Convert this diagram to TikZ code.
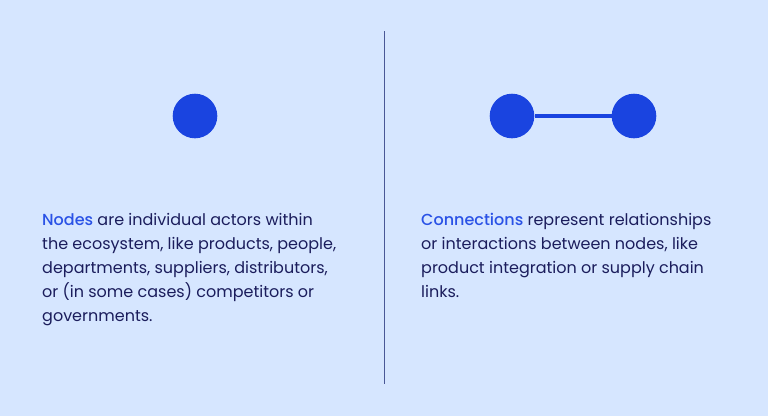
\documentclass[tikz,border=0pt]{standalone}
\usepackage{fontspec}
\setmainfont{Poppins}
\newfontfamily\headfont{Poppins Medium}
\definecolor{bgblue}{HTML}{D6E6FF}
\definecolor{dotblue}{HTML}{1A44E0}
\definecolor{inkblue}{HTML}{1B1D5C}
\definecolor{headblue}{HTML}{2A52E6}
\definecolor{rulegray}{HTML}{4A5896}

\begin{document}
\begin{tikzpicture}[x=1pt, y=-1pt,
		dot/.style={circle, fill=dotblue, minimum size=44.6pt, inner sep=0pt},
		blurb/.style={anchor=north west, inner sep=0pt, align=left, text=inkblue, font=\fontsize{16}{24}\selectfont}]
			% Background
			\fill[bgblue] (0, 0) rectangle (768, 416);
			\useasboundingbox (0, 0) rectangle (768, 416);
	
			% Nodes
			\node[dot] (n) at (195, 116) {};
			\node[dot] (a) at (512, 116) {};
			\node[dot] (b) at (634, 116) {};
	
			% Divider
			\coordinate (top) at (384, 31);
			\coordinate (bottom) at (384, 384);
			\draw[rulegray, line width=1pt] (top) -- (bottom);
	
			% Link
			\draw[dotblue, line width=4pt] (a) -- (b);
	
			% Texts
			\node[blurb] (left) at (42, 213) {{\color{headblue}\headfont Nodes} are individual actors within\\
				the ecosystem, like products, people,\\
				departments, suppliers, distributors,\\
				or (in some cases) competitors or\\
				governments.};
			\node[blurb] (right) at (421, 213) {{\color{headblue}\headfont Connections} represent relationships\\
				or interactions between nodes, like\\
				product integration or supply chain\\
				links.};
		\end{tikzpicture}
\end{document}
